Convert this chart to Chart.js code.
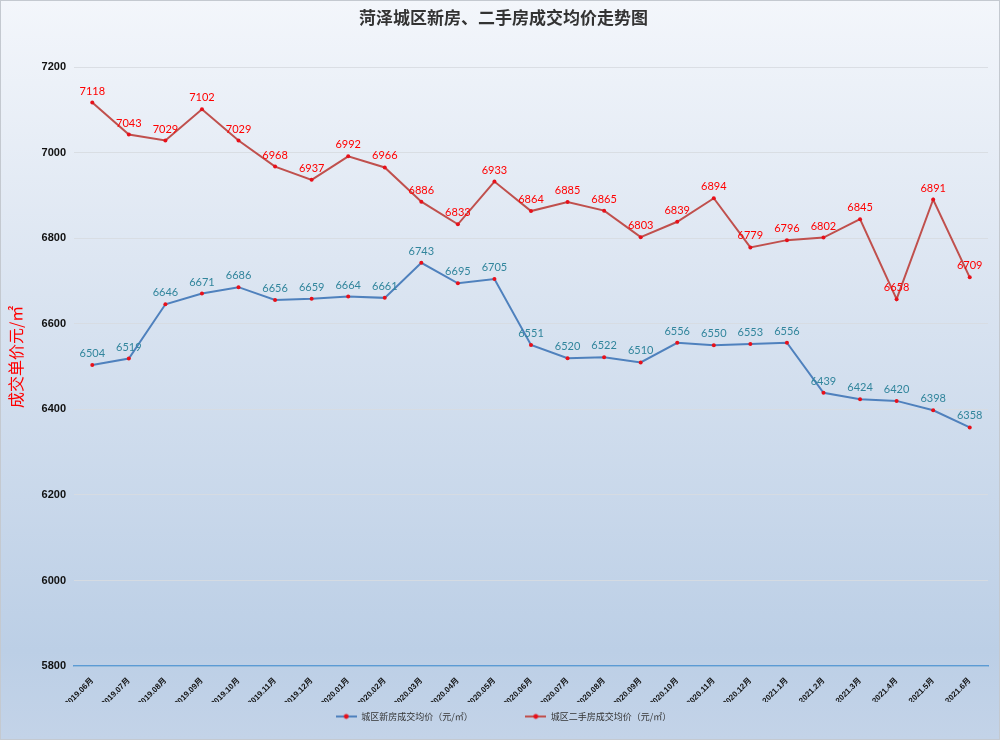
<!DOCTYPE html>
<html><head><meta charset="utf-8">
<script src="https://cdn.jsdelivr.net/npm/chart.js@4/dist/chart.umd.min.js"></script>
<style>
html,body{margin:0;padding:0;}
#wrap{width:1000px;height:740px;box-sizing:border-box;border:1px solid #c4c9d0;
background:linear-gradient(to bottom,#f3f6fb 0%,#dde6f2 35%,#bccfe6 88%,#c3d3e8 100%);}
canvas{display:block;}
</style></head>
<body><div id="wrap"><canvas id="c" width="998" height="738"></canvas></div>
<script>
const categories = ["2019.06月","2019.07月","2019.08月","2019.09月","2019.10月","2019.11月","2019.12月","2020.01月","2020.02月","2020.03月","2020.04月","2020.05月","2020.06月","2020.07月","2020.08月","2020.09月","2020.10月","2020.11月","2020.12月","2021.1月","2021.2月","2021.3月","2021.4月","2021.5月","2021.6月"];
const newHouse = [6504,6519,6646,6671,6686,6656,6659,6664,6661,6743,6695,6705,6551,6520,6522,6510,6556,6550,6553,6556,6439,6424,6420,6398,6358];
const secondHand = [7118,7043,7029,7102,7029,6968,6937,6992,6966,6886,6833,6933,6864,6885,6865,6803,6839,6894,6779,6796,6802,6845,6658,6891,6709];
const yTicks = [5800,6000,6200,6400,6600,6800,7000,7200];

function legendIcon(color){
  const cv=document.createElement('canvas'); cv.width=21; cv.height=8;
  const g=cv.getContext('2d');
  g.strokeStyle=color; g.lineWidth=2; g.beginPath(); g.moveTo(0,4); g.lineTo(21,4); g.stroke();
  g.fillStyle='#e8101a'; g.beginPath(); g.arc(10.5,4,2.4,0,Math.PI*2); g.fill();
  return cv;
}
const icons=[legendIcon('#4f81bd'),legendIcon('#c0504d')];

const labelPlugin={id:'vals',afterDatasetsDraw(chart){
  const ctx=chart.ctx; ctx.save();
  ctx.font='11px Lato, "Noto Sans CJK SC"'; ctx.textAlign='center'; ctx.textBaseline='bottom';
  chart.data.datasets.forEach((ds,i)=>{
    const meta=chart.getDatasetMeta(i);
    ctx.fillStyle = i===0 ? '#31859c' : '#ff0000';
    meta.data.forEach((pt,j)=>{ ctx.fillText(String(ds.data[j]), pt.x, pt.y-6); });
  });
  ctx.restore();
}};

new Chart(document.getElementById('c'),{
  type:'line',
  data:{labels:categories,datasets:[
    {label:'城区新房成交均价（元/㎡）',data:newHouse,borderColor:'#4f81bd',borderWidth:2,
     pointBackgroundColor:'#e8101a',pointBorderColor:'#e8101a',pointRadius:2,pointBorderWidth:0,tension:0},
    {label:'城区二手房成交均价（元/㎡）',data:secondHand,borderColor:'#c0504d',borderWidth:2,
     pointBackgroundColor:'#e8101a',pointBorderColor:'#e8101a',pointRadius:2,pointBorderWidth:0,tension:0}
  ]},
  options:{
    responsive:false,animation:false,
    layout:{padding:{left:18,right:11,top:0,bottom:8}},
    plugins:{
      title:{display:true,text:'菏泽城区新房、二手房成交均价走势图',color:'#333',
        font:{size:17,weight:'bold',family:'"Noto Sans CJK SC", sans-serif'},padding:{top:6,bottom:40}},
      legend:{position:'bottom',labels:{
        font:{size:9,family:'"Noto Sans CJK SC", sans-serif'},color:'#333',padding:10,
        usePointStyle:true,pointStyleWidth:21,
        generateLabels(chart){
          return chart.data.datasets.map((d,i)=>({text:d.label+(i===0?'　　　　　 ':''),pointStyle:icons[i],fillStyle:'#000',strokeStyle:'#000',lineWidth:0,datasetIndex:i,fontColor:'#333'}));
        }}},
      tooltip:{enabled:false}
    },
    scales:{
      x:{offset:true,
        grid:{display:false},
        border:{display:true,color:'#5b9bd5',width:1.5},
        ticks:{autoSkip:false,maxRotation:45,minRotation:45,color:'#111',
          font:{size:8,weight:'bold',family:'"Liberation Sans", "Noto Sans CJK SC"'},padding:2},
        afterFit(s){s.height=36;}
      },
      y:{min:5800,max:7200,
        afterBuildTicks(s){s.ticks=yTicks.map(v=>({value:v}));},
        grid:{color:'rgba(215,220,225,0.9)',lineWidth:1,drawTicks:false},
        border:{display:false},
        ticks:{color:'#111',padding:8,font:{size:11,weight:'bold',family:'"Liberation Sans"'},
          callback:(v)=>String(v)},
        title:{display:true,text:'　 成交单价元/㎡',color:'#ff0000',
          font:{size:16,family:'"Noto Sans CJK SC", sans-serif'},padding:{top:-13,bottom:4}},
        afterFit(s){s.width=55;}
      }
    }
  },
  plugins:[labelPlugin]
});
</script>
</body></html>
